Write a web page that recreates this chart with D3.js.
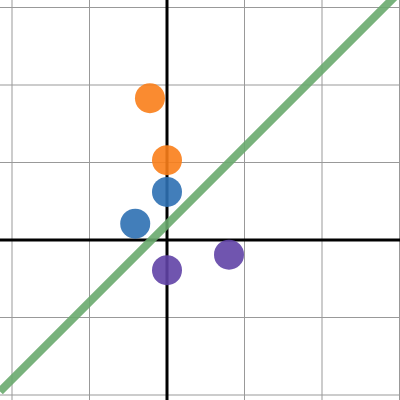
<!doctype html>
<html>
<head>
<script src="https://cdnjs.cloudflare.com/ajax/libs/d3/7.8.5/d3.min.js"></script>
<style>body{margin:0;background:#fff}</style>
</head>
<body>
<div id="chart"></div>
<script>
var orangeX = [-0.22, 0], orangeY = [1.83, 1.03];
var blueX = [0, -0.41], blueY = [0.62, 0.21];
var purpleX = [0.8, 0], purpleY = [-0.19, -0.39];
var lineSlope = 1, lineIntercept = 0.2;
var gridTicks = [-2, -1, 0, 1, 2, 3];

var W = 400, H = 400, unit = 77.5;
var x = d3.scaleLinear().domain([-167 / unit, (W - 167) / unit]).range([0, W]);
var y = d3.scaleLinear().domain([-(H - 240) / unit, 240 / unit]).range([H, 0]);

var svg = d3.select("#chart").append("svg").attr("width", W).attr("height", H);

// grid
svg.selectAll(".vg").data(gridTicks).enter().append("line")
  .attr("x1", d => x(d)).attr("x2", d => x(d)).attr("y1", 0).attr("y2", H)
  .attr("stroke", "#999").attr("stroke-width", 1);
svg.selectAll(".hg").data(gridTicks).enter().append("line")
  .attr("y1", d => y(d)).attr("y2", d => y(d)).attr("x1", 0).attr("x2", W)
  .attr("stroke", "#999").attr("stroke-width", 1);

// axes
svg.append("line").attr("x1", x(0)).attr("x2", x(0)).attr("y1", 0).attr("y2", H)
  .attr("stroke", "#000").attr("stroke-width", 3);
svg.append("line").attr("y1", y(0)).attr("y2", y(0)).attr("x1", 0).attr("x2", W)
  .attr("stroke", "#000").attr("stroke-width", 3);

// fit line
var xs = x.domain();
svg.append("line")
  .attr("x1", x(xs[0])).attr("y1", y(lineSlope * xs[0] + lineIntercept))
  .attr("x2", x(xs[1])).attr("y2", y(lineSlope * xs[1] + lineIntercept))
  .attr("stroke", "#6aaa6e").attr("stroke-width", 8).attr("opacity", 0.9);

function dots(xv, yv, color) {
  svg.selectAll(null).data(xv).enter().append("circle")
    .attr("cx", d => x(d)).attr("cy", (d, i) => y(yv[i]))
    .attr("r", 15).attr("fill", color).attr("opacity", 0.9);
}
dots(orangeX, orangeY, "#fa7e19");
dots(blueX, blueY, "#2d70b3");
dots(purpleX, purpleY, "#6042a6");
</script>
</body>
</html>
